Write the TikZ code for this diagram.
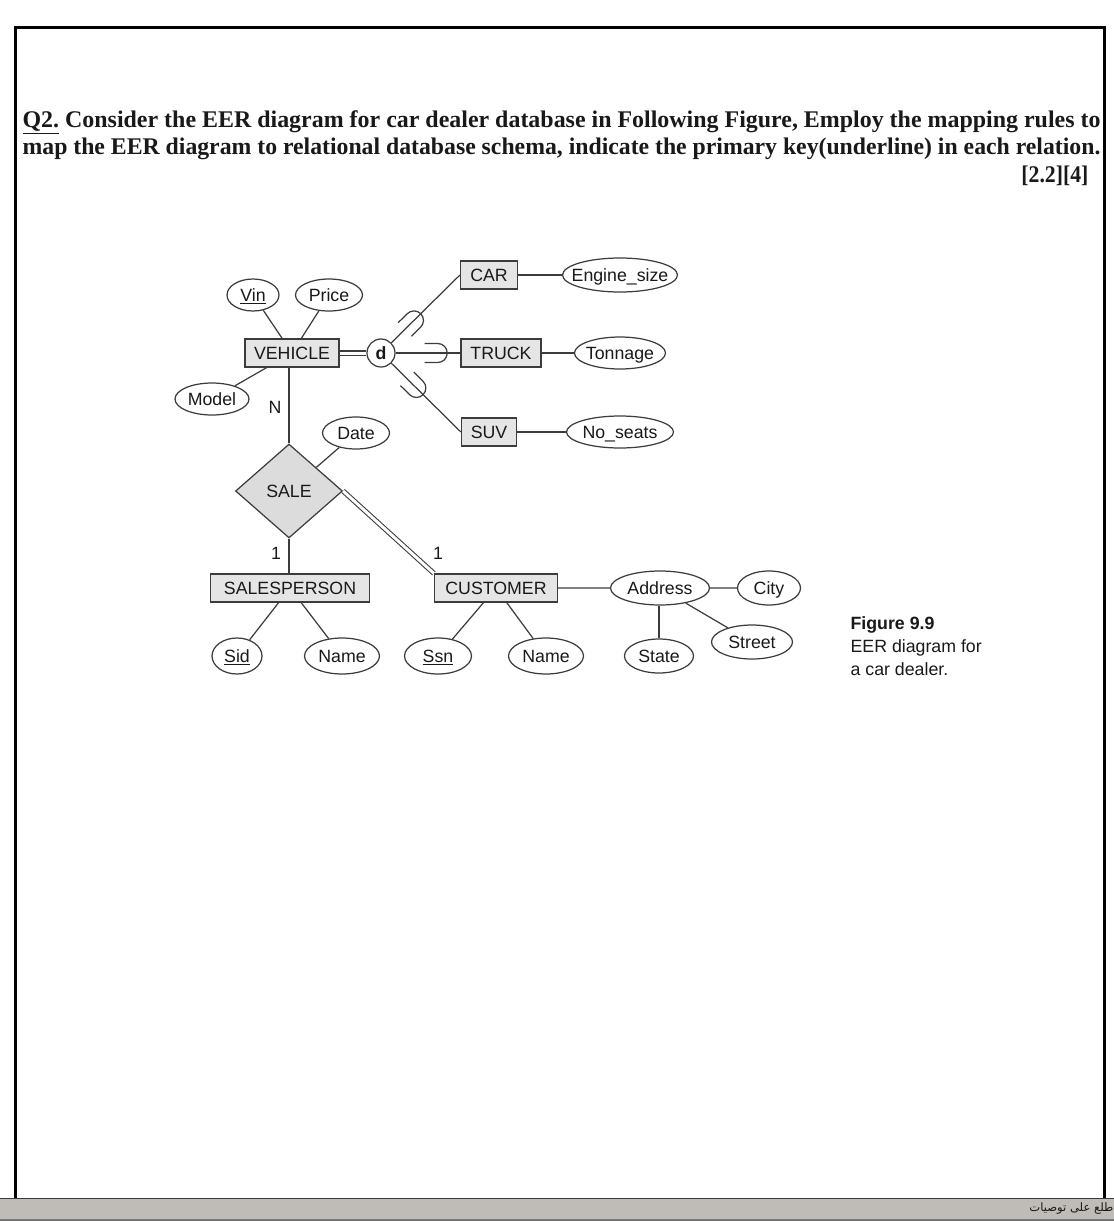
\documentclass[tikz,border=0pt]{standalone}
\usepackage{fontspec}
\usepackage{graphicx}
\setmainfont{Liberation Serif}
\setsansfont{Liberation Sans}
\newfontfamily\arabicfont[Script=Arabic]{DejaVu Sans}
\TeXXeTstate=1
\usetikzlibrary{shapes.geometric,decorations.markings}

\definecolor{boxgray}{RGB}{229,229,229}
\definecolor{linegray}{RGB}{60,60,60}
\definecolor{bargray}{RGB}{191,187,183}
\newcommand{\zw}[1]{\makebox[0pt]{\rule[-0.2em]{0pt}{1.1em}#1}}

\begin{document}
\begin{tikzpicture}[x=0.02cm,y=-0.02cm,line width=0.7pt,
    every node/.style={font=\sffamily\fontsize{10.1}{12}\selectfont,text=black!90},
    ent/.style={draw=linegray,fill=boxgray,rectangle,minimum width=#1,minimum height=0.56cm,inner xsep=2pt,inner ysep=0pt},
    attr/.style={draw=linegray,fill=white,ellipse,minimum width=#1,minimum height=0.64cm,inner sep=0pt},
    link/.style={draw=linegray},
    dbl/.style={draw=linegray,line width=0.6pt,double distance=1.7pt},
    subsetmark/.style={postaction={decorate},decoration={markings,
                    mark=at position #1 with {\draw[linegray,line width=0.7pt] (-13,-9.5) -- (0,-9.5) arc (-90:90:9.5) -- (-13,9.5);}}}]

\useasboundingbox (0,0) rectangle (1114,1221);

\draw[line width=1.7pt] (15.5,1198) -- (15.5,27.5) -- (1104,27.5) -- (1104,1198);
\fill[bargray] (0,1198) rectangle (1114,1221);
\draw[linegray,line width=0.6pt] (0,1198.5) -- (1114,1198.5);
\draw[linegray!70,line width=0.6pt] (0,1220) -- (1114,1220);
\node[anchor=east,inner sep=0pt,font=\arabicfont\fontsize{6.6}{8}\selectfont] (advice) at (1114,1208) {\beginR طلع على توصيات\endR};

\node[anchor=base west,inner sep=0pt,font=\rmfamily\bfseries\fontsize{13.6}{16}\selectfont] (qline1) at (22,127)
    {\resizebox{21.56cm}{\height}{\underline{Q2.} Consider the EER diagram for car dealer database in Following Figure, Employ the mapping rules to}};
\node[anchor=base west,inner sep=0pt,font=\rmfamily\bfseries\fontsize{13.6}{16}\selectfont] (qline2) at (22,154)
    {\resizebox{21.56cm}{\height}{map the EER diagram to relational database schema, indicate the primary key(underline) in each relation.}};
\node[anchor=base east,inner sep=0pt,font=\rmfamily\bfseries\fontsize{13.6}{16}\selectfont] (qmarks) at (1089,182)
    {\resizebox{1.34cm}{\height}{[2.2][4]}};

\node[ent=1.14cm] (car) at (489,275) {CAR};
\node[ent=1.6cm] (truck) at (501,353) {TRUCK};
\node[ent=1.1cm] (suv) at (489,432) {SUV};
\node[ent=1.88cm] (vehicle) at (292,353) {VEHICLE};
\node[ent=3.18cm] (salesp) at (290,588) {SALESPERSON};
\node[ent=2.46cm] (cust) at (496,588) {CUSTOMER};
\node[draw=linegray,fill=boxgray!96!black,diamond,minimum width=2.14cm,minimum height=1.88cm,inner sep=0pt] (sale) at (289,491) {\zw{SALE}};
\node[draw=linegray,fill=white,circle,minimum size=0.56cm,inner sep=0pt,font=\sffamily\bfseries\fontsize{10.1}{12}\selectfont] (d) at (381,353) {d};

\node[attr=1.04cm] (vin) at (253,295) {\zw{\underline{Vin}}};
\node[attr=1.34cm] (price) at (329,295) {\zw{Price}};
\node[attr=1.48cm] (model) at (212,399) {\zw{Model}};
\node[attr=1.34cm] (date) at (356,433) {\zw{Date}};
\node[attr=2.3cm,minimum height=0.68cm] (engine) at (620,275) {\zw{Engine\_size}};
\node[attr=1.82cm] (tonnage) at (620,353) {\zw{Tonnage}};
\node[attr=2.14cm] (seats) at (620,432) {\zw{No\_seats}};
\node[attr=1.98cm,minimum height=0.68cm] (addr) at (660,588) {\zw{Address}};
\node[attr=1.26cm,minimum height=0.68cm] (city) at (769,588) {\zw{City}};
\node[attr=1.38cm,minimum height=0.68cm] (state) at (659,656) {\zw{State}};
\node[attr=1.62cm,minimum height=0.68cm] (street) at (752,642) {\zw{Street}};
\node[attr=1cm,minimum height=0.72cm] (sid) at (237,656) {\zw{\underline{Sid}}};
\node[attr=1.5cm,minimum height=0.72cm] (sname) at (342,656) {\zw{Name}};
\node[attr=1.34cm,minimum height=0.72cm] (ssn) at (438,656) {\zw{\underline{Ssn}}};
\node[attr=1.5cm,minimum height=0.72cm] (cname) at (546,656) {\zw{Name}};

\path[link] (vin) -- (vehicle) (price) -- (vehicle) (model) -- (vehicle);
\path[dbl] (vehicle) -- (d);
\path[link,subsetmark=0.33] (d) -- (car.west);
\path[link,subsetmark=0.65] (d) -- (truck.west);
\path[link,subsetmark=0.36] (d) -- (suv.west);
\path[link] (car) -- (engine) (truck) -- (tonnage) (suv) -- (seats);
\path[link] (sale.north) -- (sale.north |- vehicle.south);
\path[link] (date) -- (sale);
\path[link] (sale.south) -- (sale.south |- salesp.north);
\path[dbl] (sale.east) -- (cust.north west);
\path[link] (sid) -- (salesp) (sname) -- (salesp) (ssn) -- (cust) (cname) -- (cust);
\path[link] (cust) -- (addr) (addr) -- (city) (addr) -- (street);
\path[link] (state.north) -- (state.north |- addr.south);

\node (nlabel) at (275,407) {N};
\node (onesp) at (276,553) {1};
\node (onecu) at (438,553) {1};

\node[anchor=base west,inner sep=0pt,font=\sffamily\bfseries\fontsize{10.1}{12}\selectfont] (figno) at (850,629) {Figure 9.9};
\node[anchor=base west,inner sep=0pt] (figcap1) at (850,652) {EER diagram for};
\node[anchor=base west,inner sep=0pt] (figcap2) at (850,675) {a car dealer.};
\end{tikzpicture}
\end{document}
